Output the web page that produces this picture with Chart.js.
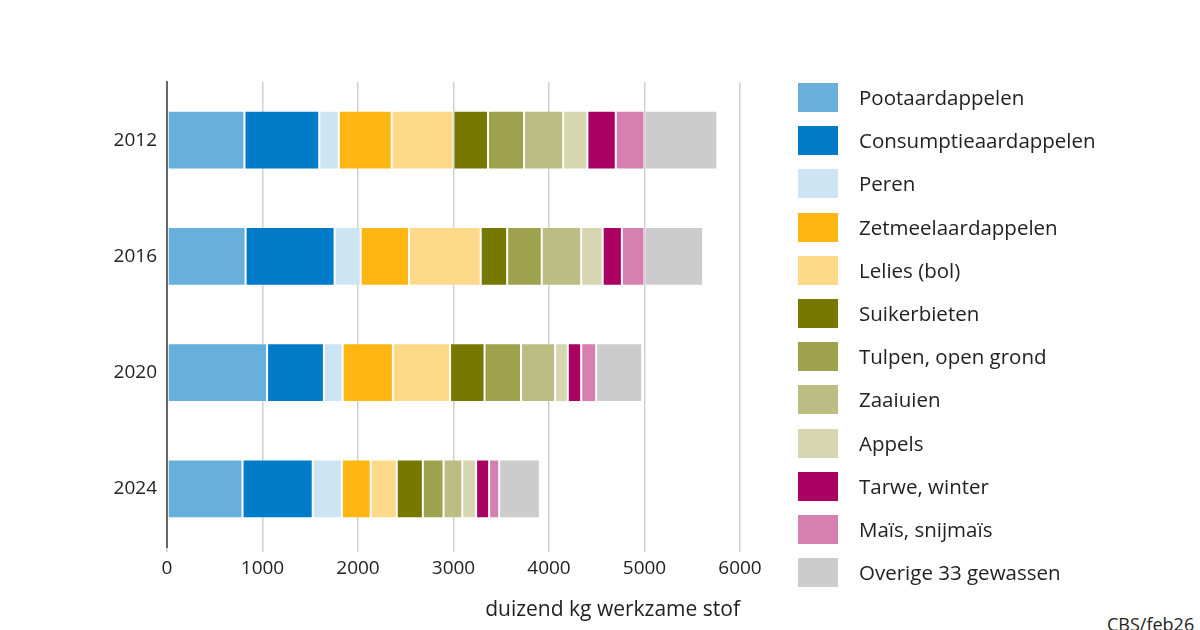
<!DOCTYPE html>
<html>
<head>
<meta charset="utf-8">
<script src="https://cdn.jsdelivr.net/npm/chart.js@4/dist/chart.umd.min.js"></script>
<style>
  html, body { margin: 0; padding: 0; background: #fff; }
  body { width: 1200px; height: 630px; position: relative; overflow: hidden; font-family: "Open Sans", "Lato", sans-serif; color: #222; }
  #wrap { position: absolute; left: 0; top: 0; width: 800px; height: 630px; }
  #legend { position: absolute; left: 798px; top: 83px; }
  .item { position: absolute; left: 0; height: 30px; white-space: nowrap; }
  .box { position: absolute; left: 0; top: 0; width: 40px; height: 29px; }
  .lbl { position: absolute; left: 61px; top: 0; line-height: 29px; font-size: 20.5px; color: #222; }
  #src { position: absolute; left: 1107px; top: 612px; font-size: 18px; color: #222; }
</style>
</head>
<body>
<div id="wrap"><canvas id="c" width="800" height="630"></canvas></div>
<div id="legend"></div>
<div id="src">CBS/feb26</div>
<script>
const categories = ["2012", "2016", "2020", "2024"];
const seriesNames = ["Pootaardappelen", "Consumptieaardappelen", "Peren", "Zetmeelaardappelen", "Lelies (bol)", "Suikerbieten", "Tulpen, open grond", "Zaaiuien", "Appels", "Tarwe, winter", "Maïs, snijmaïs", "Overige 33 gewassen"];
const seriesColors = ["#67b0dc", "#007bc7", "#cce4f4", "#ffb612", "#ffd98a", "#767800", "#9fa24d", "#bbbd82", "#d6d6b0", "#a90061", "#d580b0", "#cccccc"];
const pootaardappelen = [811, 823, 1048, 791];
const consumptieaardappelen = [783, 932, 595, 735];
const peren = [205, 273, 196, 305];
const zetmeelaardappelen = [554, 506, 526, 302];
const lelies = [647, 751, 599, 273];
const suikerbieten = [361, 277, 361, 273];
const tulpen = [378, 362, 382, 217];
const zaaiuien = [410, 413, 357, 196];
const appels = [253, 225, 133, 145];
const tarwe = [297, 201, 140, 136];
const mais = [301, 237, 157, 105];
const overige = [763, 614, 482, 426];
const xTicks = [0, 1000, 2000, 3000, 4000, 5000, 6000];
const xTitle = "duizend kg werkzame stof";

const seriesValues = [pootaardappelen, consumptieaardappelen, peren, zetmeelaardappelen, lelies, suikerbieten, tulpen, zaaiuien, appels, tarwe, mais, overige];

const datasets = seriesNames.map((name, i) => ({
  label: name,
  data: seriesValues[i],
  backgroundColor: seriesColors[i],
  borderColor: "rgba(255,255,255,0.18)",
  borderWidth: 1,
  borderSkipped: false,
  categoryPercentage: 1,
  barPercentage: 0.507
}));

const FONT = "'Open Sans', 'Lato', sans-serif";

new Chart(document.getElementById("c"), {
  type: "bar",
  data: { labels: categories, datasets },
  options: {
    indexAxis: "y",
    responsive: false,
    animation: false,
    layout: { padding: { top: 82, left: 0, right: 60, bottom: 0 } },
    plugins: { legend: { display: false }, tooltip: { enabled: false } },
    scales: {
      x: {
        stacked: true,
        min: 0, max: 6000,
        afterBuildTicks: (s) => { s.ticks = xTicks.map(v => ({ value: v })); },
        grid: { color: "#d0d0d0", lineWidth: 1.5, tickLength: 5, drawTicks: true },
        border: { display: false },
        ticks: { color: "#222", font: { family: FONT, size: 19 }, padding: 5, maxRotation: 0, callback: (v) => String(v) },
        title: { display: true, text: xTitle, align: "end", color: "#222", font: { family: FONT, size: 21 }, padding: { top: 6, bottom: 7 } },
        afterFit: (s) => { s.height = 83; }
      },
      y: {
        stacked: true,
        grid: { display: false, drawTicks: false },
        border: { display: true, color: "#666", width: 2 },
        ticks: { color: "#222", font: { family: FONT, size: 19 }, padding: 10 },
        afterFit: (s) => { s.width = 167; }
      }
    }
  }
});

const legend = document.getElementById("legend");
seriesNames.forEach((name, i) => {
  const it = document.createElement("div");
  it.className = "item";
  it.style.top = (i * 43.2) + "px";
  const b = document.createElement("div");
  b.className = "box";
  b.style.background = seriesColors[i];
  const l = document.createElement("div");
  l.className = "lbl";
  l.textContent = name;
  it.appendChild(b); it.appendChild(l);
  legend.appendChild(it);
});
</script>
</body>
</html>
